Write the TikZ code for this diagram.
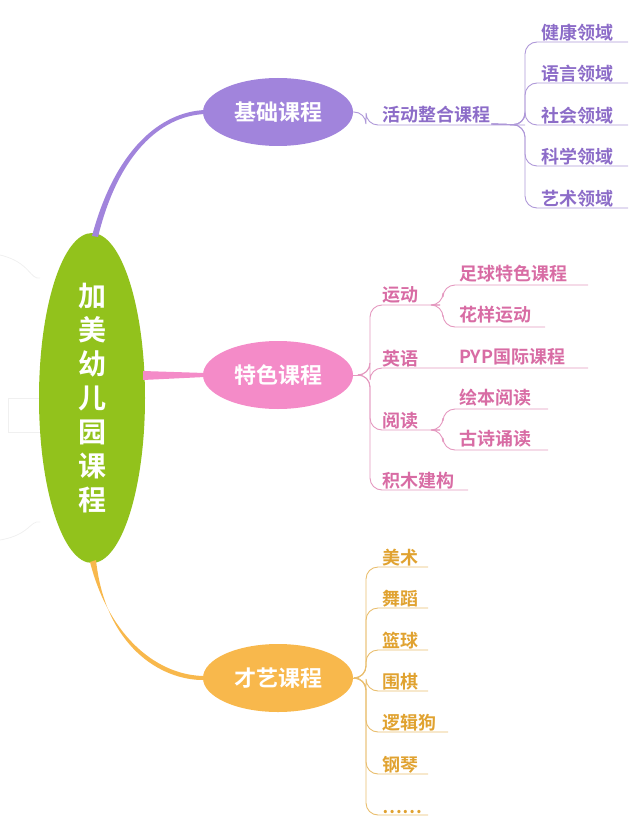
\documentclass[tikz,border=0pt]{standalone}
\usepackage{fontspec}
\newfontfamily\cjk{Noto Sans CJK SC Bold}
\usetikzlibrary{shapes.geometric}
\definecolor{pu}{HTML}{A184DC}
\definecolor{put}{HTML}{8C6CC8}
\definecolor{pk}{HTML}{F48BC8}
\definecolor{pkt}{HTML}{D86CA4}
\definecolor{og}{HTML}{F8B84C}
\definecolor{ogt}{HTML}{E0A230}
\definecolor{gr}{HTML}{92C21C}
\begin{document}
\begin{tikzpicture}[x=1pt,y=-1pt,
  main/.style={ellipse,draw=none,text=white,font=\cjk\fontsize{22}{24}\selectfont,minimum width=150,minimum height=68,inner sep=0},
  leaf/.style={anchor=south west,inner sep=1,font=\cjk\fontsize{18}{20}\selectfont},
  ln/.style={line width=0.9pt,rounded corners=12}]
\useasboundingbox (0,0) rectangle (639,826);
% faint background
\draw[black!6,line width=0.8] (0,255) .. controls (30,262) and (30,280) .. (40,278);
\draw[black!6,line width=0.8] (0,540) .. controls (30,535) and (30,520) .. (40,522);
\draw[black!6,line width=0.6] (8,398) rectangle (40,432);
% centre
\node[ellipse,fill=gr,minimum width=106,minimum height=330,inner sep=0,text=white,font=\cjk\fontsize{28}{34}\selectfont,align=center] (c) at (92,398) {加\\美\\幼\\儿\\园\\课\\程};
\node[main,fill=pu] (a) at (278,112) {基础课程};
\node[main,fill=pk] (b) at (278,375) {特色课程};
\node[main,fill=og] (d) at (278,678) {才艺课程};
\fill[pu] (92,236) .. controls (115,150) and (160,112) .. (205,110) -- (205,114) .. controls (160,116) and (118,155) .. (98,237) -- cycle;
\fill[pk] (143,371) -- (205,373) -- (205,377) -- (143,380) -- cycle;
\fill[og] (90,562) .. controls (110,640) and (160,676) .. (205,676) -- (205,680) .. controls (160,681) and (105,645) .. (96,560) -- cycle;
% purple branch
\node[leaf,text=put] (a1) at (381,124) {活动整合课程};
\draw[put!70,ln] (a.east) -- (366,112) -- (366,125) -- (525,125);
\foreach \t/\y [count=\i] in {健康领域/42,语言领域/83,社会领域/125,科学领域/166,艺术领域/208}{
  \node[leaf,text=put] (ap\i) at (540,\y) {\t};
  \coordinate (ae\i) at (628,\y);
  \draw[put!70,ln] (a1.south east) -- (525,125) -- (525,\y) -- (ae\i);
}
% pink branch
\coordinate (bs) at (360,375);
\draw[pkt!70,line width=0.9pt] (b.east) -- (bs);
\node[leaf,text=pkt] (b1) at (381,305) {运动};
\node[leaf,text=pkt] (b2) at (381,368) {英语};
\node[leaf,text=pkt] (b3) at (381,430) {阅读};
\node[leaf,text=pkt] (b4) at (381,490) {积木建构};
\coordinate (be1) at (440,305);\coordinate (be2) at (588,368);
\coordinate (be3) at (440,430);\coordinate (be4) at (468,490);
\foreach \i/\y in {1/305,2/368,3/430,4/490}{
  \draw[pkt!70,ln] (bs) -- (370,375) -- (370,\y) -- (be\i);}
\node[leaf,text=pkt] (b21) at (458,366) {PYP国际课程};
\node[leaf,text=pkt] (b11) at (458,283) {足球特色课程};
\node[leaf,text=pkt] (b12) at (458,325) {花样运动};
\node[leaf,text=pkt] (b31) at (458,407) {绘本阅读};
\node[leaf,text=pkt] (b32) at (458,448) {古诗诵读};
\coordinate (e11) at (588,285);\coordinate (e12) at (545,327);
\coordinate (e31) at (548,409);\coordinate (e32) at (548,450);
\draw[pkt!70,ln] (be1) -- (443,305) -- (443,285) -- (e11);
\draw[pkt!70,ln] (be1) -- (443,305) -- (443,327) -- (e12);
\draw[pkt!70,ln] (be3) -- (443,430) -- (443,409) -- (e31);
\draw[pkt!70,ln] (be3) -- (443,430) -- (443,450) -- (e32);
% orange branch
\coordinate (ds) at (358,678);
\draw[ogt!70,line width=0.9pt] (d.east) -- (ds);
\foreach \t/\y/\e [count=\i] in {美术/567/428,舞蹈/608/428,篮球/650/428,围棋/691/428,逻辑狗/732/448,钢琴/774/428,……/815/428}{
  \node[leaf,text=ogt] (d\i) at (381,\y) {\t};
  \coordinate (de\i) at (\e,\y);
  \draw[ogt!70,ln] (ds) -- (366,678) -- (366,\y) -- (de\i);
}
\end{tikzpicture}
\end{document}
